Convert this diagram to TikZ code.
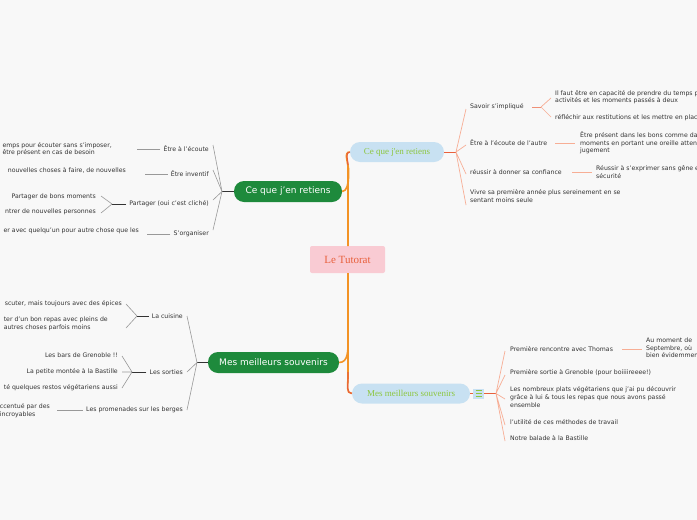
\documentclass[tikz,border=0pt]{standalone}
\usepackage{fontspec}
\setmainfont{DejaVu Sans}
\newfontfamily\serifnode{Liberation Serif}
\definecolor{bg}{HTML}{F8F8F8}
\definecolor{dg}{HTML}{1E8A3C}
\definecolor{org}{HTML}{F39325}
\definecolor{red1}{HTML}{E8603C}
\definecolor{sal}{HTML}{F7AE95}
\definecolor{lb}{HTML}{C8E1F2}
\definecolor{lg}{HTML}{8DC63F}
\definecolor{pk}{HTML}{F9CBD3}
\definecolor{tx}{HTML}{333333}
\tikzset{
 lf/.style={font=\fontsize{6.2}{7.6}\selectfont, text=tx, inner sep=0pt, align=left},
 lfr/.style={lf, anchor=east, align=right},
 lfrl/.style={lf, anchor=east, align=left},
 lfl/.style={lf, anchor=west},
 gtopic/.style={rounded corners=10pt, fill=dg, text=white, font=\fontsize{9}{10}\selectfont, minimum height=21pt, inner sep=0pt},
 btopic/.style={rounded corners=10pt, fill=lb, text=lg, font=\serifnode\fontsize{9}{10}\selectfont, minimum height=20pt, inner sep=0pt},
 gl/.style={draw=gray!80, line width=0.6pt},
 sl/.style={draw=sal, line width=0.7pt},
}
\begin{document}
\begin{tikzpicture}[x=1pt,y=-1pt]
\fill[bg] (0,0) rectangle (697,520);
\useasboundingbox (0,0) rectangle (697,520);
\clip (0,0) rectangle (697,520);
% central
\node[fill=pk, rounded corners=2pt, minimum width=75pt, minimum height=27pt, text=red1, font=\serifnode\fontsize{11}{12}\selectfont] (c) at (347.5,259.5) {Le Tutorat};
\node[gtopic, minimum width=108pt] (L1) at (288,191.5) {Ce que j'en retiens};
\node[gtopic, minimum width=131pt] (L2) at (273.5,362.5) {Mes meilleurs souvenirs};
\node[btopic, minimum width=94pt] (R1) at (397,152) {Ce que j'en retiens};
\node[btopic, minimum width=118pt] (R2) at (411,393.5) {Mes meilleurs souvenirs};
\node[fill=lb, minimum width=11pt, minimum height=10pt, inner sep=0pt] (ic) at (478.5,393.5) {};
\draw[lg, line width=0.6pt] (475.5,390.5) -- (481.5,390.5) (475.5,393.5) -- (481.5,393.5) (475.5,396.5) -- (481.5,396.5);
% main connectors
\draw[org, line width=1.6pt] (348,246) -- (348,168) to[out=90,in=180] (R1.west);
\draw[org, line width=1.6pt] (348,168) to[out=90,in=0] (L1.east);
\draw[red1, line width=1.2pt] (348,165) to[out=90,in=180] (R1.west);
\draw[org, line width=1.6pt] (348,273) -- (348,378) to[out=-90,in=180] (R2.west);
\draw[red1, line width=1.2pt] (348,372) -- (348,380) to[out=-90,in=180] (R2.west);
\draw[org, line width=1.6pt] (348,340) to[out=-90,in=0] (L2.east);
% left topic 1
\coordinate (j1) at (222,191.5);
\draw[tx, line width=1pt] (L1.west) -- (j1);
\node[lfr] (a1) at (209,149) {Être à l'écoute};
\node[lfr] (a2) at (209,174) {Être inventif};
\node[lfr] (a3) at (209,204) {Partager (oui c'est cliché)};
\node[lfr] (a4) at (209,234) {S'organiser};
\foreach \n/\y in {a1/149,a2/174,a3/204,a4/234} \draw[gl] (j1) -- (213,\y-4) ;
\node[lfrl] (b1) at (112,149) {emps pour écouter sans s'imposer,\\être présent en cas de besoin};
\draw[gl] (a1.west)+(-3,0) -- (137,149);
\node[lfr] (b2) at (126,170) {nouvelles choses à faire, de nouvelles};
\draw[gl] (a2.west)+(-3,0) -- (145,174);
\draw[tx, line width=0.8pt] (a3.west)+(-3,0) -- (112,204);
\node[lfr] (b3) at (96,197) {Partager de bons moments};
\node[lfr] (b4) at (96,212) {ntrer de nouvelles personnes};
\draw[gl] (112,204) -- (101,196) (112,204) -- (101,213);
\node[lfr] (b5) at (139,231) {er avec quelqu'un pour autre chose que les};
\draw[gl] (a4.west)+(-3,0) -- (147,234);
% left topic 2
\coordinate (j2) at (197,362.5);
\draw[tx, line width=1pt] (L2.west) -- (j2);
\node[lfr] (d1) at (183,316) {La cuisine};
\node[lfr] (d2) at (183,372) {Les sorties};
\node[lfr] (d3) at (183,410) {Les promenades sur les berges};
\draw[gl] (j2) -- (187,316) (j2) -- (187,372) (j2) -- (187,410);
\draw[tx, line width=0.8pt] (d1.west)+(-3,0) -- (137,316);
\draw[gl] (137,316) -- (126,304) (137,316) -- (126,328);
\node[lfr] at (122,304) {scuter, mais toujours avec des épices};
\node[lf, anchor=north east] at (108,317) {ter d'un bon repas avec pleins de\\autres choses parfois moins\phantom{xx}};
\draw[tx, line width=0.8pt] (d2.west)+(-3,0) -- (132,372);
\draw[gl] (132,372) -- (122,356) (132,372) -- (122,372) (132,372) -- (122,388);
\node[lfr] at (118,355) {Les bars de Grenoble !!};
\node[lfr] at (118,372) {La petite montée à la Bastille};
\node[lfr] at (118,388) {té quelques restos végétariens aussi};
\draw[gl] (d3.west)+(-3,0) -- (57,410);
\node[lfrl] at (50,410.5) {ccentué par des\\ incroyables};
% right topic 1
\coordinate (k1) at (456,152);
\draw[red1, line width=1pt] (R1.east) -- (k1);
\node[lfl] (e1) at (470,107) {Savoir s'impliqué};
\node[lfl] (e2) at (470,143) {Être à l'écoute de l'autre};
\node[lfl] (e3) at (470,172) {réussir à donner sa confiance};
\node[lfl] (e4) at (470,196) {Vivre sa première année plus sereinement en se\\sentant moins seule};
\draw[sl] (k1) -- (466,109) (k1) -- (466,145) (k1) -- (466,174) (k1) -- (466,205);
\draw[red1!70, line width=1pt] (532,107) -- (541,107);
\draw[sl] (541,107) -- (551,98) (541,107) -- (551,117);
\node[lfl] at (555,97) {Il faut être en capacité de prendre du temps pour les\\activités et les moments passés à deux};
\node[lfl] at (555,118) {réfléchir aux restitutions et les mettre en place};
\draw[sl] (555,143) -- (575,143);
\node[lfl] at (580,143) {Être présent dans les bons comme dans les mauvais\\moments en portant une oreille attentive sans\\jugement};
\draw[sl] (572,172) -- (592,172);
\node[lfl] at (596,172) {Réussir à s'exprimer sans gêne et en toute\\sécurité};
% right topic 2
\coordinate (k2) at (496,393.5);
\draw[red1, line width=1pt] (ic.east) -- (k2);
\draw[red1, line width=1pt] (R2.east) -- (ic.west);
\node[lfl] at (510,349) {Première rencontre avec Thomas};
\node[lfl] at (510,373) {Première sortie à Grenoble (pour boiiiireeee!)};
\node[lfl] at (510,397) {Les nombreux plats végétariens que j'ai pu découvrir\\grâce à lui \& tous les repas que nous avons passé\\ensemble};
\node[lfl] at (510,422) {l'utilité de ces méthodes de travail};
\node[lfl] at (510,438) {Notre balade à la Bastille};
\draw[sl] (k2) -- (505,351) (k2) -- (505,375) (k2) -- (505,399) (k2) -- (505,425) (k2) -- (505,441);
\draw[sl] (622,349) -- (642,349);
\node[lfl] at (646,348) {Au moment de\\Septembre, où\\bien évidemment};
\end{tikzpicture}
\end{document}
